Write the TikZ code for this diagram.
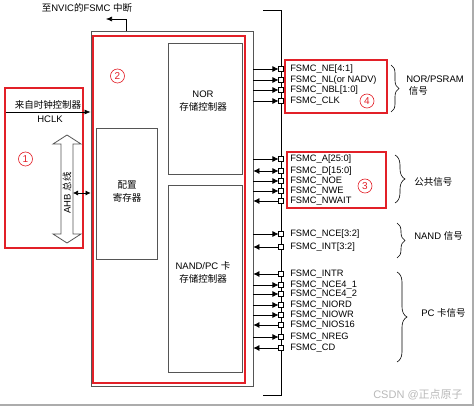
\documentclass[tikz,border=0pt]{standalone}
\usepackage{fontspec}
\setmainfont{Liberation Sans}
\newfontfamily\cjk{Noto Sans CJK SC}
\newcommand{\zh}[1]{{\cjk #1}}
\usetikzlibrary{arrows.meta,decorations.pathreplacing}
\definecolor{markred}{RGB}{226,32,40}
\definecolor{boxgray}{RGB}{85,85,85}
\tikzset{
  blockbox/.style={draw=boxgray, line width=0.9pt, inner sep=0pt},
  redframe/.style={draw=markred, line width=1.4pt},
  pinsq/.style={draw, fill=white, inner sep=0pt, minimum size=4.5pt, line width=0.6pt},
  pinlbl/.style={anchor=west, inner sep=0pt, font=\fontsize{9.3}{10}\selectfont},
  pinout/.style={-{Latex[length=6pt,width=6pt]}},
  pinin/.style={{Latex[length=6pt,width=6pt]}-},
  pinbi/.style={{Latex[length=6pt,width=6pt]}-{Latex[length=6pt,width=6pt]}},
  numcirc/.style={circle, draw=markred, text=markred, line width=0.6pt, inner sep=0pt,
    minimum size=14pt, font=\fontsize{10}{10}\selectfont},
  grplbl/.style={anchor=west, inner sep=0pt, align=left},
  grpbrace/.style={decorate, decoration={brace, amplitude=#1}, line width=0.6pt},
}
\begin{document}
\begin{tikzpicture}[x=1pt, y=-1pt, line width=0.6pt, font=\fontsize{9.5}{13}\selectfont]
    \useasboundingbox (0,0) rectangle (474,406);
    \draw [gray!65, line width=2pt] (472.5,0) -- (472.5,404.5) -- (0,404.5);
    % FSMC block
    \node [blockbox, minimum width=162, minimum height=355] (fsmc) at (172,208.5) {};
    \draw [redframe] (93,36) rectangle (245,383);
    \node [blockbox, minimum width=74, minimum height=131] (nor) at (205,108.5) {};
    \node [blockbox, minimum width=74, minimum height=187] (nand) at (205,278.5) {};
    \node [blockbox, minimum width=61, minimum height=131] (cfg) at (126.5,193.5) {};
    \node [align=center] (norlbl) at (203,101.5) {NOR\\\zh{存储控制器}};
    \node [align=center] (nandlbl) at (203,272.5) {NAND/PC \zh{卡}\\\zh{存储控制器}};
    \node [align=center] (cfglbl) at (127,191.5) {\zh{配置}\\\zh{寄存器}};
    \node [numcirc] (n2) at (117.5,76) {2};
    % interrupt
    \coordinate (irq) at (126,31);
    \coordinate (irqend) at (106,19);
    \draw [-{Latex[length=6pt,width=5pt]}] (irq) |- (irqend);
    \node (irqlbl) at (87,8) {\zh{至}NVIC\zh{的}FSMC \zh{中断}};
    % clock and AHB
    \draw [redframe] (5,88) rectangle (83,248);
    \node [numcirc] (n1) at (25.5,159) {1};
    \node (clksrc) at (48,104.5) {\zh{来自时钟控制器}};
    \coordinate (clkin) at (6,112);
    \draw [-{Latex[length=6pt,width=5pt]}] (clkin) -- (clkin -| fsmc.west);
    \node (hclk) at (50,119.5) {HCLK};
    \draw [boxgray, fill=white, line width=0.8pt] (67,135) -- (81,144) -- (73,144) -- (73,234)
        -- (81,234) -- (67,243) -- (53,234) -- (61,234) -- (61,144) -- (53,144) -- cycle;
    \node [rotate=90] (ahb) at (67,193) {AHB \zh{总线}};
    \coordinate (ahbport) at (73,193);
    \draw [{Latex[length=5pt,width=5pt]}-{Latex[length=5pt,width=5pt]}] (ahbport) -- (ahbport -| fsmc.west);
    % pins
    \draw (263,10) -- (281,10) -- (281,395) -- (263,395);
    \foreach \y/\sig/\dir [count=\i] in {
        69/NE[4:1]/pinout, 80/NL(or NADV)/pinout, 90/NBL[1:0]/pinout, 101/CLK/pinout,
        159/A[25:0]/pinout, 171/D[15:0]/pinbi, 181/NOE/pinout, 191/NWE/pinout, 201/NWAIT/pinin,
        234/NCE[3:2]/pinout, 247/INT[3:2]/pinin,
        274/INTR/pinin, 285/NCE4\_1/pinout, 294/NCE4\_2/pinout, 305/NIORD/pinout,
        315/NIOWR/pinout, 325/NIOS16/pinin, 337/NREG/pinout, 348/CD/pinin} {
        \node [pinsq] (p\i) at (281,\y) {};
        \node [pinlbl] (s\i) at (290,\y) {FSMC\_\sig};
        \draw [\dir] (fsmc.east |- p\i) -- (p\i.west);
    }
    \draw [redframe] (285,60) rectangle (387,113);
    \node [numcirc] (n4) at (367,101) {4};
    \draw [redframe] (287,152) rectangle (386,208);
    \node [numcirc] (n3) at (365,186) {3};
    % signal groups
    \draw [grpbrace=8pt] (391,65) -- (391,112);
    \node [grplbl, font=\fontsize{9.5}{11.5}\selectfont] (gnor) at (406,85.5) {NOR/PSRAM\\\ \zh{信号}};
    \draw [grpbrace=10pt] (395,155) -- (395,203);
    \node [grplbl] (gcom) at (414,182) {\zh{公共信号}};
    \draw [grpbrace=8pt] (397,223) -- (397,258);
    \node [grplbl] (gnand) at (414,236) {NAND \zh{信号}};
    \draw [grpbrace=10pt] (397,272) -- (397,362);
    \node [grplbl] (gpc) at (421,313) {PC \zh{卡信号}};
    \node [grplbl, text=gray!55, font=\fontsize{11}{11}\selectfont] (wm) at (373,395) {CSDN @\zh{正点原子}};
\end{tikzpicture}
\end{document}
